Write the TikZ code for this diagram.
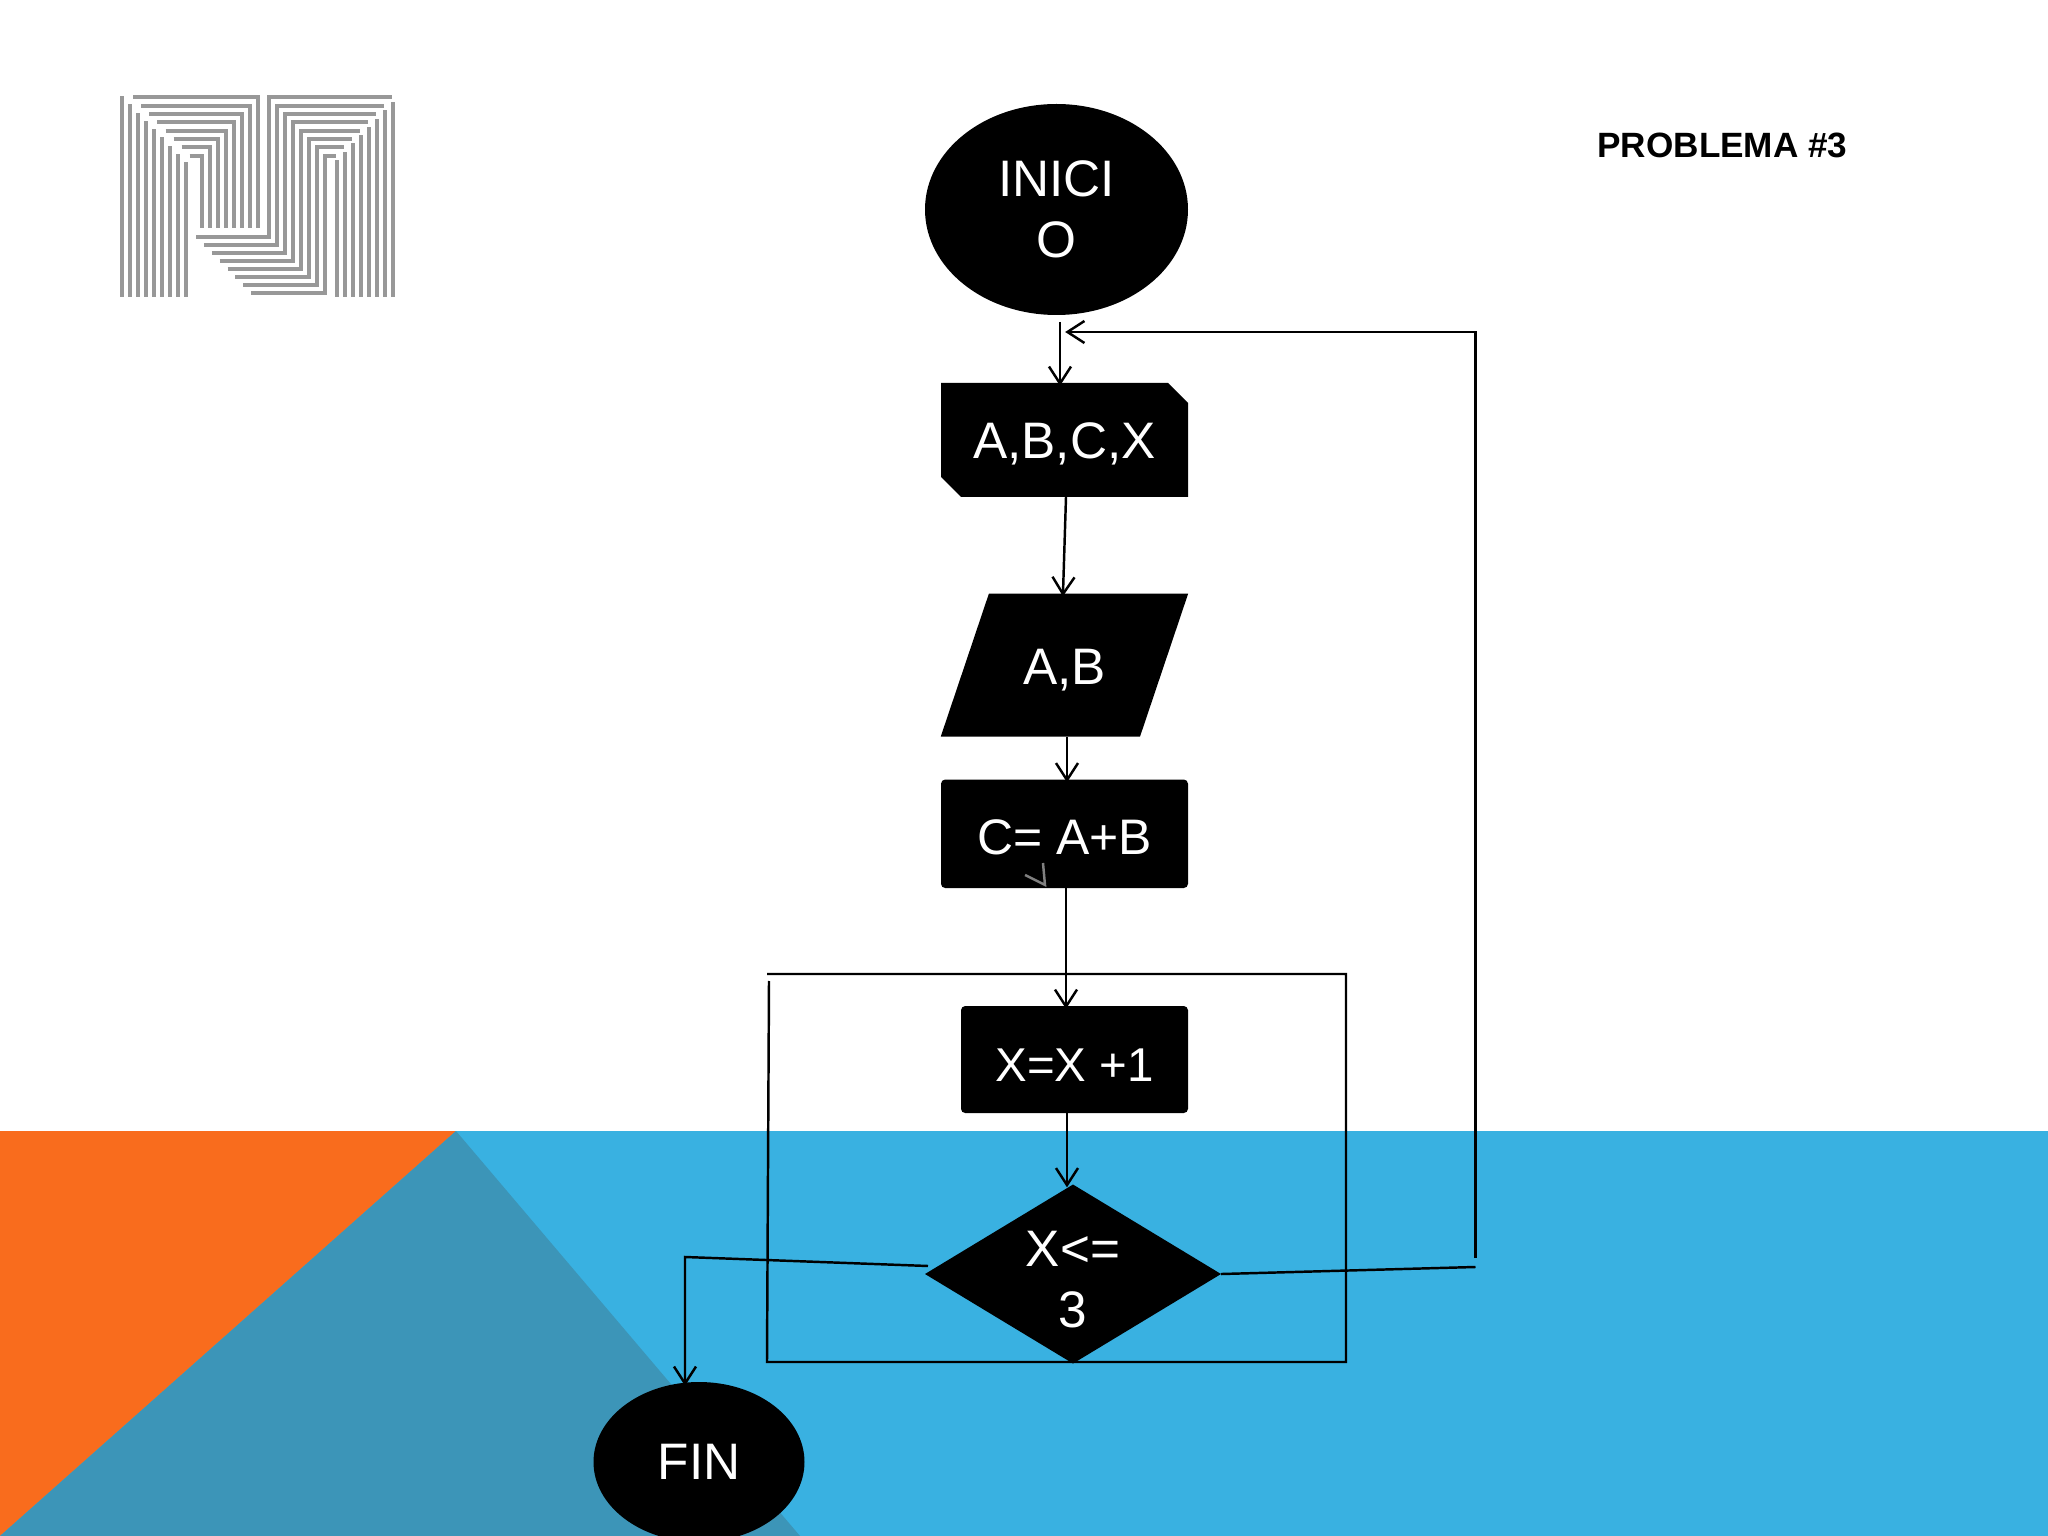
\documentclass[tikz,border=0pt]{standalone}
\usepackage{fontspec}
\setmainfont{Liberation Sans}
\usetikzlibrary{arrows.meta, positioning, shapes.geometric, shapes.misc}
\definecolor{bandblue}{HTML}{39B1E1}
\definecolor{bandorange}{HTML}{F96C1D}
\definecolor{bandteal}{HTML}{3C95B8}
\definecolor{logogray}{HTML}{989898}

\begin{document}
\begin{tikzpicture}[
    node distance=0.7cm,
    forma/.style={fill=black, text=white, inner sep=0pt, outer sep=0pt, align=center, font=\fontsize{14.6}{17.4}\selectfont},
    box/.style={forma, rectangle, rounded corners=1.2pt, minimum height=1.085cm},
    arrow/.style={-{Straight Barb[length=1.7mm, width=2.2mm]}, line width=0.7pt, shorten >=-0.8pt},
    trazo/.style={line width=0.7pt},
    logo/.style={logogray, line width=1.1pt}
]
\useasboundingbox (0,0) rectangle (20.48,-15.36);

% Fond
\fill[white] (0,0) rectangle (20.48,-15.36);
\fill[bandblue] (0,-11.31) rectangle (20.48,-15.36);
\fill[bandorange] (0,-11.31) -- (4.56,-11.31) -- (0,-15.36) -- cycle;
\fill[bandteal] (4.56,-11.31) -- (8.00,-15.36) -- (0,-15.36) -- cycle;

% Logo
\foreach \i in {0,...,8}
    \draw[logo] ({1.22+0.08*\i},-2.97) -- ({1.22+0.08*\i},{-0.96-0.083*\i});
\foreach \i in {0,...,7} {
    \draw[logo] ({1.333+0.0805*\i},{-0.973-0.0835*\i}) -- ({2.577-0.08*\i},{-0.973-0.0835*\i}) -- ({2.577-0.08*\i},-2.277);
    \draw[logo] ({1.96+0.079*\i},{-2.367-0.081*\i}) -- ({2.69+0.08*\i},{-2.367-0.081*\i}) -- ({2.69+0.08*\i},{-0.973-0.0835*\i}) -- ({3.917-0.08*\i},{-0.973-0.0835*\i});
    \draw[logo] ({3.933-0.08*\i},-2.97) -- ({3.933-0.08*\i},{-1.02-0.083*\i});
}

% Titre
\node[font=\fontsize{10}{12}\selectfont\bfseries] (title) at (17.225,-1.45) {PROBLEMA \#3};

% Noeuds principaux
\node[forma, ellipse, minimum width=2.63cm, minimum height=2.11cm] (inicio) at (10.565,-2.095) {INICI\\O};
\node[forma, chamfered rectangle, chamfered rectangle corners={north east, south west}, chamfered rectangle xsep=0.1cm, chamfered rectangle ysep=0.1cm, minimum width=2.47cm, minimum height=1.14cm, text height=0.40cm, text depth=0.024cm, below=0.68cm of inicio, xshift=0.08cm] (datos) {A,B,C,X};
\node[forma, trapezium, trapezium stretches=true, trapezium left angle=58.5, trapezium right angle=121.5, minimum width=2.48cm, minimum height=1.43cm, text height=0.41cm, text depth=0.02cm, below=0.965cm of datos] (lectura) {A,B};
\node[box, minimum width=2.47cm, text height=0.42cm, text depth=0cm, below=0.43cm of lectura, font=\fontsize{14.2}{17}\selectfont] (suma) {C= A+B};
\node[box, minimum width=2.27cm, minimum height=1.07cm, text height=0.43cm, text depth=0cm, below=1.18cm of suma, xshift=0.10cm, font=\fontsize{13.5}{16}\selectfont] (incremento) {X=X +1};
\node[forma, diamond, aspect=1.65, minimum width=2.96cm, minimum height=1.79cm, below=0.715cm of incremento, xshift=-0.015cm] (decision) {\rule{0pt}{0.46cm}X<=\\3};
\node[forma, ellipse, minimum width=2.11cm, minimum height=1.60cm] (fin) at (6.99,-14.62) {FIN};

% Extremites libres
\coordinate (c1) at (10.60,-3.22);
\coordinate (c3) at (10.68,-3.32);
\coordinate (r1) at (14.755,-12.67);
\coordinate (r2) at (14.755,-12.58);
\coordinate (r3) at (14.755,-3.32);
\coordinate (s1) at (9.28,-12.66);
\coordinate (s2) at (6.85,-12.57);
\coordinate (s3) at (6.85,-13.83);
\coordinate (b1) at (7.69,-9.81);
\coordinate (b2) at (7.67,-13.62);
\coordinate (b3) at (13.46,-13.62);
\coordinate (b4) at (13.46,-9.74);
\coordinate (b5) at (7.67,-9.74);

% Fleches
\draw[arrow] (c1) -- ([xshift=-0.045cm]datos.north);
\draw[arrow] ([xshift=0.015cm]datos.south) -- ([xshift=-0.015cm]lectura.north);
\draw[arrow] ([xshift=0.025cm]lectura.south) -- ([xshift=0.025cm]suma.north);
\draw[arrow] ([xshift=0.015cm]suma.south) -- ([xshift=-0.085cm]incremento.north);
\draw[arrow] ([xshift=-0.075cm]incremento.south) -- ([xshift=-0.06cm]decision.north);
\draw[trazo] (decision.east) -- (r1);
\draw[arrow] (r2) -- (r3) -- (c3);
\draw[arrow] (s1) -- (s2) -- (s3);
\draw[trazo] (b1) -- (b2) -- (b3) -- (b4) -- (b5);

% Trait gris
\draw[gray, line width=0.7pt] (10.25,-8.75) -- (10.45,-8.85) -- (10.43,-8.63);
\end{tikzpicture}
\end{document}
